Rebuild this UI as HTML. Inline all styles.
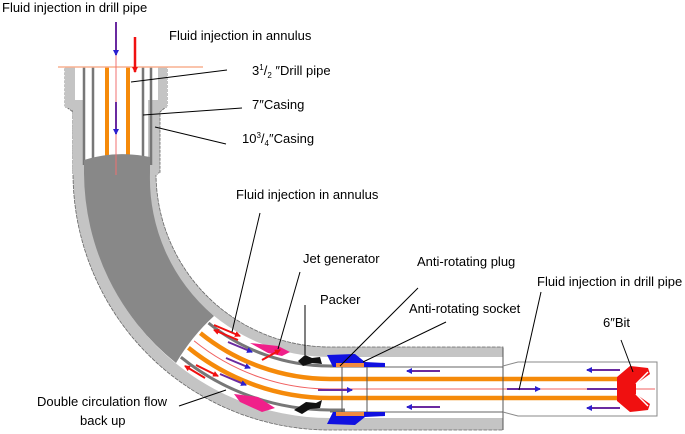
<!DOCTYPE html>
<html><head><meta charset="utf-8"><style>
html,body{margin:0;padding:0;background:#fff;}
svg{display:block;}
text{font-family:"Liberation Sans",sans-serif;font-size:13px;fill:#000;}
</style></head><body>
<svg width="685" height="434" viewBox="0 0 685 434" xmlns="http://www.w3.org/2000/svg">
<defs>
<marker id="bh" markerWidth="6" markerHeight="6" refX="5" refY="3" orient="auto" markerUnits="userSpaceOnUse"><path d="M0,0 L6,3 L0,6 Z" fill="#2a1fd0"/></marker>
<marker id="rh" markerWidth="6" markerHeight="6" refX="5" refY="3" orient="auto" markerUnits="userSpaceOnUse"><path d="M0,0 L6,3 L0,6 Z" fill="#f01010"/></marker>
</defs>

<path d="M65,67 L167,67 L167,106 L160,112 L160,173 L73,173 L73,112 L65,106 Z" fill="#c4c4c4" stroke="#666" stroke-width="0.8" stroke-dasharray="3,1"/>
<path d="M73,110 L73,173 A257,257 0 0 0 330,430 L503,430 L503,347 L330,347 A174,174 0 0 1 156,173 L156,110 Z" fill="#c4c4c4" stroke="#666" stroke-width="0.8" stroke-dasharray="4,1"/>
<rect x="75" y="67" width="83" height="95" fill="#fff"/>
<path d="M85,110 L85,173 A245,245 0 0 0 330,418 L503,418 L503,357 L330,357 A184,184 0 0 1 146,173 L146,110 Z" fill="#fff"/>
<rect x="65" y="67" width="10" height="41" fill="#c4c4c4"/>
<rect x="158" y="67" width="9" height="41" fill="#c4c4c4"/>
<rect x="73" y="100" width="10" height="75" fill="#c4c4c4"/>
<rect x="148" y="100" width="10" height="75" fill="#c4c4c4"/>
<g stroke="#777" stroke-width="2.5">
<line x1="84" y1="67" x2="84" y2="165"/><line x1="93" y1="67" x2="93" y2="160"/>
<line x1="143" y1="67" x2="143" y2="160"/><line x1="151" y1="67" x2="151" y2="165"/>
</g>
<g stroke="#f58a0a" stroke-width="4">
<line x1="107" y1="67" x2="107" y2="160"/><line x1="128" y1="67" x2="128" y2="158"/>
</g>
<path d="M84,160 Q115,150 150,157 L150,173 A180,180 0 0 0 214,316 Q192,336 176,363 A245,245 0 0 1 84,173 Z" fill="#888"/>
<g fill="none">
<path d="M208.5,323 A193,193 0 0 0 330,366 L345,366" stroke="#777" stroke-width="3"/>
<path d="M180.9,357.2 A237,237 0 0 0 330,410 L345,410" stroke="#777" stroke-width="3"/>
<path d="M200.4,333.1 A206,206 0 0 0 330,379 L617,379" stroke="#f58a0a" stroke-width="4.5"/>
<path d="M188.4,347.8 A225,225 0 0 0 330,398 L617,398" stroke="#f58a0a" stroke-width="4.5"/>
<path d="M194.1,340.9 A216,216 0 0 0 330,389 L655,389" stroke="#f06060" stroke-width="1"/>
</g>
<line x1="330" y1="367" x2="503" y2="367" stroke="#666" stroke-width="1"/>
<line x1="330" y1="412" x2="503" y2="412" stroke="#666" stroke-width="1"/>
<g stroke="#555" stroke-width="1"><line x1="342" y1="367" x2="342" y2="412"/><line x1="367" y1="367" x2="367" y2="412"/><line x1="503" y1="348" x2="503" y2="430"/></g>
<path d="M327,355 L355,354 L365,362 L385,363 L385,367 L333,367 Z" fill="#1010e0"/>
<rect x="336" y="363" width="28" height="4" fill="#f08a40"/>
<path d="M327,424 L355,425 L365,417 L385,416 L385,412 L333,412 Z" fill="#1010e0"/>
<rect x="336" y="412" width="28" height="4" fill="#f08a40"/>
<path d="M298,361 L305,355 L312,358 L320,357 L322,364 L312,363 L303,366 Z" fill="#111"/>
<path d="M294,410 L306,402 L316,403 L322,400 L320,408 L310,409 L302,414 Z" fill="#111"/>
<path d="M250,343 L278,346 L290,352 L282,356 L268,353 Z" fill="#f0208a"/>
<path d="M234,394 L258,397 L275,408 L262,412 L240,402 Z" fill="#f0208a"/>
<g stroke="#f01010" stroke-width="2" marker-end="url(#rh)">
<line x1="214" y1="325" x2="240" y2="336"/><line x1="238" y1="340" x2="214" y2="330"/>
<line x1="196" y1="365" x2="218" y2="376"/><line x1="205" y1="378" x2="185" y2="366"/>
<line x1="262" y1="360" x2="280" y2="350"/>
</g>
<g stroke="#6a2aa0" stroke-width="2" marker-end="url(#bh)">
<line x1="228" y1="342" x2="252" y2="352"/><line x1="226" y1="358" x2="250" y2="368"/>
<line x1="220" y1="374" x2="246" y2="385"/>
<line x1="440" y1="371" x2="407" y2="371"/><line x1="620" y1="370" x2="587" y2="370"/>
<line x1="440" y1="407" x2="407" y2="407"/><line x1="620" y1="408" x2="587" y2="408"/>
<line x1="318" y1="390" x2="352" y2="390"/><line x1="507" y1="389" x2="540" y2="389"/><line x1="587" y1="389" x2="622" y2="389"/>
</g>
<path d="M503,366 L518,362 L657,362 L657,416 L518,416 L503,412" fill="none" stroke="#888" stroke-width="1"/>
<path d="M617,377 L630,366 L648,368 L650,374 L636,384 L636,394 L650,404 L648,410 L630,412 L617,401 Z" fill="#f01010"/>
<g stroke="#fff" stroke-width="1.5"><line x1="636" y1="384" x2="648" y2="372"/><line x1="636" y1="394" x2="648" y2="406"/></g>

<line x1="58" y1="67" x2="203" y2="67" stroke="#f8b090" stroke-width="1.5"/>
<line x1="116" y1="55" x2="116" y2="175" stroke="#f07070" stroke-width="1"/>
<g stroke="#6a2aa0" stroke-width="2" marker-end="url(#bh)">
<line x1="116" y1="22" x2="116" y2="55"/><line x1="116" y1="102" x2="116" y2="134"/>
</g>
<line x1="135" y1="37" x2="135" y2="72" stroke="#f01010" stroke-width="2.5" marker-end="url(#rh)"/>

<g stroke="#000" stroke-width="1" fill="none">
<line x1="227" y1="70" x2="131" y2="82"/>
<line x1="242" y1="108" x2="143" y2="115"/>
<line x1="226" y1="144" x2="155" y2="127"/>
<line x1="260" y1="213" x2="232" y2="332"/>
<line x1="300" y1="272" x2="278" y2="349"/>
<line x1="305" y1="305" x2="305" y2="355"/>
<line x1="418" y1="288" x2="340" y2="366"/>
<line x1="446" y1="322" x2="363" y2="362"/>
<line x1="541" y1="292" x2="519" y2="390"/>
<line x1="621" y1="340" x2="633" y2="372"/>
<line x1="179" y1="406" x2="226" y2="390"/>
</g>

<text x="2" y="12">Fluid injection in drill pipe</text>
<text x="169" y="40">Fluid injection in annulus</text>
<text x="252" y="75">3<tspan font-size="8" dy="-5">1</tspan><tspan dy="5">/</tspan><tspan font-size="8" dy="3">2</tspan><tspan dy="-3"> ″Drill pipe</tspan></text>
<text x="252" y="109">7″Casing</text>
<text x="242" y="143">10<tspan font-size="8" dy="-5">3</tspan><tspan dy="5">/</tspan><tspan font-size="8" dy="3">4</tspan><tspan dy="-3">″Casing</tspan></text>
<text x="236" y="199">Fluid injection in annulus</text>
<text x="303" y="263">Jet generator</text>
<text x="417" y="266">Anti-rotating plug</text>
<text x="537" y="286">Fluid injection in drill pipe</text>
<text x="320" y="304">Packer</text>
<text x="409" y="313">Anti-rotating socket</text>
<text x="603" y="327">6″Bit</text>
<text x="37" y="406">Double circulation flow</text>
<text x="80" y="425">back up</text>
</svg>
</body></html>
